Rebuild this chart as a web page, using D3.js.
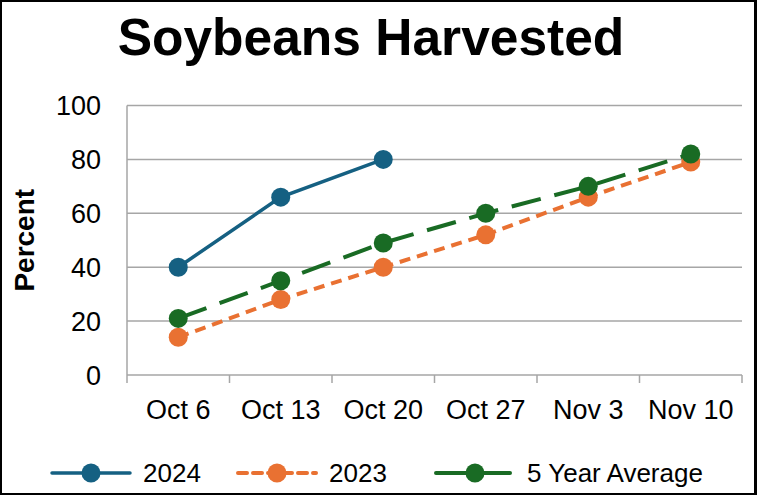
<!DOCTYPE html>
<meta charset="utf-8">
<head>
    <style type="text/css">
        body { margin: 0; }
        .grid line { stroke: #a6a6a6; stroke-width: 1.5; }
        .tick text { font-family: "Liberation Sans", Arial, sans-serif; fill: #000; }
        .line { fill: none; }
    </style>
</head>
<body>
    <script src="https://d3js.org/d3.v7.min.js"></script>
    <script>
        // data
        var weeks = ["Oct 6", "Oct 13", "Oct 20", "Oct 27", "Nov 3", "Nov 10"];
        var yTicks = [0, 20, 40, 60, 80, 100];
        var pct2024 = [40, 66, 80];
        var pct2023 = [14, 28, 40, 52, 66, 79];
        var pctAvg = [21, 35, 49, 60, 70, 82];

        var series = [
            { name: "2024", values: pct2024, color: "#156082", dash: null, legDash: null, width: 3.5 },
            { name: "2023", values: pct2023, color: "#E97132", dash: "11,7", legDash: "9,6", width: 4 },
            { name: "5 Year Average", values: pctAvg, color: "#196B24", dash: "30,14", legDash: "30,14", width: 4 }
        ];

        var W = 757, H = 495;
        var plot = { left: 127, right: 742, top: 105.5, bottom: 375 };

        var svg = d3.select("body").append("svg")
            .attr("width", W)
            .attr("height", H);

        // frame
        svg.append("rect").attr("width", W).attr("height", H).attr("fill", "#000");
        svg.append("rect").attr("x", 2).attr("y", 2).attr("width", W - 5).attr("height", H - 4).attr("fill", "#fff");

        // title
        svg.append("text")
            .attr("x", 371)
            .attr("y", 55)
            .attr("text-anchor", "middle")
            .style("font-family", "Liberation Sans, Arial, sans-serif")
            .style("font-weight", "bold")
            .style("font-size", "51.5px")
            .text("Soybeans Harvested");

        var xScale = d3.scaleBand()
            .domain(weeks)
            .range([plot.left, plot.right])
            .padding(0);

        var yScale = d3.scaleLinear()
            .domain([0, 100])
            .range([plot.bottom, plot.top]);

        function cx(i) { return xScale(weeks[i]) + xScale.bandwidth() / 2; }

        // horizontal gridlines
        svg.append("g").attr("class", "grid")
            .selectAll("line")
            .data(yTicks)
            .enter().append("line")
            .attr("x1", plot.left)
            .attr("x2", plot.right)
            .attr("y1", function (d) { return yScale(d); })
            .attr("y2", function (d) { return yScale(d); });

        // y axis line
        svg.append("line")
            .attr("x1", plot.left).attr("x2", plot.left)
            .attr("y1", plot.top).attr("y2", plot.bottom)
            .attr("stroke", "#a6a6a6").attr("stroke-width", 1.5);

        // y tick labels
        var yAxis = svg.append("g")
            .attr("transform", "translate(" + (plot.left - 26) + ",0)")
            .call(d3.axisLeft(yScale).tickValues(yTicks).tickSize(0).tickPadding(0));
        yAxis.select(".domain").remove();
        yAxis.selectAll("text").style("font-size", "27px").attr("dy", "0.35em");

        // x tick marks at category boundaries
        var bounds = weeks.map(function (w) { return xScale(w); }).concat([plot.right]);
        svg.append("g").attr("class", "grid")
            .selectAll("line")
            .data(bounds)
            .enter().append("line")
            .attr("x1", function (d) { return d; })
            .attr("x2", function (d) { return d; })
            .attr("y1", plot.bottom)
            .attr("y2", plot.bottom + 8);

        // x tick labels
        var xAxis = svg.append("g")
            .attr("transform", "translate(0," + plot.bottom + ")")
            .call(d3.axisBottom(xScale).tickSize(0).tickPadding(25));
        xAxis.select(".domain").remove();
        xAxis.selectAll("text").style("font-size", "27px");

        // y axis title
        svg.append("text")
            .attr("transform", "translate(34," + ((plot.top + plot.bottom) / 2) + ") rotate(-90)")
            .attr("text-anchor", "middle")
            .style("font-family", "Liberation Sans, Arial, sans-serif")
            .style("font-weight", "bold")
            .style("font-size", "28px")
            .text("Percent");

        var line = d3.line()
            .x(function (d, i) { return cx(i); })
            .y(function (d) { return yScale(d); });

        // draw back to front: avg, 2023, 2024
        [series[2], series[1], series[0]].forEach(function (s) {
            svg.append("path")
                .datum(s.values)
                .attr("class", "line")
                .attr("d", line)
                .attr("stroke", s.color)
                .attr("stroke-width", s.width)
                .attr("stroke-dasharray", s.dash);
        });
        [series[1], series[2], series[0]].forEach(function (s) {
            svg.append("g").selectAll("circle")
                .data(s.values)
                .enter().append("circle")
                .attr("cx", function (d, i) { return cx(i); })
                .attr("cy", function (d) { return yScale(d); })
                .attr("r", 9.5)
                .attr("fill", s.color);
        });

        // legend
        var legendX = [52, 238, 436];
        var legendY = 473;
        var leg = svg.append("g").selectAll("g")
            .data(series)
            .enter().append("g")
            .attr("transform", function (d, i) { return "translate(" + legendX[i] + "," + legendY + ")"; });
        leg.append("line")
            .attr("x1", 0).attr("x2", 78)
            .attr("stroke", function (d) { return d.color; })
            .attr("stroke-width", function (d) { return d.width; })
            .attr("stroke-dasharray", function (d) { return d.legDash; })
            .attr("stroke-linecap", "round");
        leg.append("circle")
            .attr("cx", 39).attr("r", 9.5)
            .attr("fill", function (d) { return d.color; });
        leg.append("text")
            .attr("x", 91)
            .attr("dy", "0.35em")
            .style("font-family", "Liberation Sans, Arial, sans-serif")
            .style("font-size", "26px")
            .text(function (d) { return d.name; });
    </script>
</body>
